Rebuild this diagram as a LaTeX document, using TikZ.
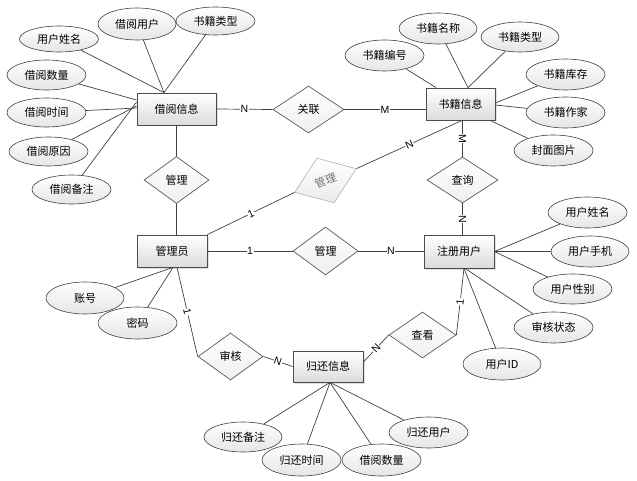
\documentclass[tikz,border=0pt]{standalone}
\usepackage{fontspec}
\setmainfont{Noto Sans CJK SC}
\newfontfamily\labfont{Liberation Sans}
\usetikzlibrary{shapes.geometric,shadows}
\begin{document}
\begin{tikzpicture}[x=1pt,y=-1pt,
  font=\fontsize{11}{13}\selectfont,
  ent/.style={rectangle, draw=black!70, line width=0.8pt, minimum width=70pt, minimum height=32pt,
    inner sep=0pt, top color=white, bottom color=black!14,
    drop shadow={shadow xshift=1.5pt, shadow yshift=-1.5pt, opacity=0.25}},
  attr/.style={ellipse, draw=black!75, line width=0.6pt, minimum width=79pt, minimum height=31pt,
    inner sep=0pt, top color=white, bottom color=black!10},
  rel/.style={diamond, draw=black!65, line width=0.7pt, minimum width=65pt, minimum height=47pt,
    inner sep=0pt, top color=white, bottom color=black!6},
  ghost/.style={draw=black!28, text=black!55, top color=white, bottom color=black!8},
  ln/.style={draw=black!75, line width=0.7pt},
  card/.style={font=\labfont\fontsize{10.5}{11}\selectfont, fill=white, inner sep=0.6pt, midway, sloped}
]
\useasboundingbox (0,0) rectangle (637,481);

% entities
\node[ent, minimum width=79pt] (jy) at (176.5,109) {借阅信息};
\node[ent, minimum width=69pt] (sj) at (460.5,104) {书籍信息};
\node[ent] (gly) at (172,251) {管理员};
\node[ent, minimum height=33pt] (zc) at (459,251.5) {注册用户};
\node[ent, minimum height=31pt] (gh) at (328,366.5) {归还信息};

% relations
\node[rel, minimum width=71pt] (gl) at (308.5,109.5) {关联};
\node[rel] (m1) at (176.5,180) {管理};
\node[rel, ghost, rotate=21, minimum width=66pt, minimum height=48pt] (m2) at (325.5,180.5) {管理};
\node[rel, minimum width=71pt, minimum height=46pt] (cx) at (462.5,180) {查询};
\node[rel, minimum height=48pt] (m3) at (325.5,251) {管理};
\node[rel] (sh) at (230.5,356.5) {审核};
\node[rel, minimum width=67pt, minimum height=46pt] (ck) at (422.5,335) {查看};

% attributes of 借阅信息
\node[attr, minimum height=26pt] (a1) at (59,39) {用户姓名};
\node[attr, minimum width=78pt, minimum height=32pt] (a2) at (137,24) {借阅用户};
\node[attr, minimum height=28pt] (a3) at (215.5,21) {书籍类型};
\node[attr, minimum height=30pt] (a4) at (46.5,75) {借阅数量};
\node[attr, minimum height=29pt] (a5) at (46.5,112.5) {借阅时间};
\node[attr, minimum height=29pt] (a6) at (48.5,151.5) {借阅原因};
\node[attr, minimum height=29pt] (a7) at (71.5,189.5) {借阅备注};

% attributes of 书籍信息
\node[attr] (b1) at (384.5,55.5) {书籍编号};
\node[attr, minimum width=78pt] (b2) at (438,28.5) {书籍名称};
\node[attr, minimum width=78pt, minimum height=30pt] (b3) at (520,37) {书籍类型};
\node[attr] (b4) at (565.5,74.5) {书籍库存};
\node[attr] (b5) at (565.5,112.5) {书籍作家};
\node[attr] (b6) at (553.5,150.5) {封面图片};

% attributes of 管理员
\node[attr, minimum width=78pt, minimum height=32pt] (c1) at (85,298) {账号};
\node[attr, minimum height=32pt] (c2) at (137.5,323) {密码};

% attributes of 注册用户
\node[attr] (d1) at (587.5,212.5) {用户姓名};
\node[attr, minimum width=78pt] (d2) at (590,251.5) {用户手机};
\node[attr, minimum height=30pt] (d3) at (572.5,289) {用户性别};
\node[attr] (d4) at (553.5,327.5) {审核状态};
\node[attr, minimum width=78pt, minimum height=32pt] (d5) at (502,364) {用户ID};

% attributes of 归还信息
\node[attr, minimum width=78pt, minimum height=30pt] (e1) at (243,437) {归还备注};
\node[attr, minimum height=32pt] (e2) at (301.5,460) {归还时间};
\node[attr, minimum height=32pt] (e3) at (381.5,460) {借阅数量};
\node[attr] (e4) at (428.5,432.5) {归还用户};

% attribute connectors
\draw[ln] (a1) -- ([xshift=-12.5pt]jy.north);
\draw[ln] (a2) -- ([xshift=-12.5pt]jy.north);
\draw[ln] (a3) -- ([xshift=-12.5pt]jy.north);
\draw[ln] (a4) -- ([yshift=9pt]jy.west);
\draw[ln] (a5) -- ([yshift=1pt]jy.west);
\draw[ln] (a6) -- ([yshift=3pt]jy.west);
\draw[ln] (a7) -- ([yshift=7pt]jy.west);

\draw[ln] (b1) -- ([xshift=-24.5pt]sj.north);
\draw[ln] (b2) -- ([xshift=7.5pt]sj.north);
\draw[ln] (b3) -- ([xshift=7.5pt]sj.north);
\draw[ln] (b4) -- ([yshift=1pt]sj.east);
\draw[ln] (b5) -- ([yshift=-1pt]sj.east);
\draw[ln] (b6) -- ([xshift=29.5pt]sj.south);

\draw[ln] (c1) -- ([xshift=1pt]gly.south);
\draw[ln] (c2) -- ([xshift=1pt]gly.south);

\draw[ln] (d1) -- (zc.east);
\draw[ln] (d2) -- (zc.east);
\draw[ln] (d3) -- (zc.east);
\draw[ln] (d4) -- ([xshift=6pt]zc.south);
\draw[ln] (d5) -- ([xshift=5pt]zc.south);

\draw[ln] (e1) -- ([xshift=2pt]gh.south);
\draw[ln] (e2) -- ([xshift=2pt]gh.south);
\draw[ln] (e3) -- ([xshift=2pt]gh.south);
\draw[ln] (e4) -- ([xshift=2pt]gh.south);

% relationship connectors
\draw[ln] (jy.east) -- node[card]{N} (gl.west);
\draw[ln] (gl.east) -- node[card]{M} (gl.east -| sj.west);
\draw[ln] (jy.south) -- (m1.north);
\draw[ln] (m1.south) -- (m1.south |- gly.north);
\draw[ln] ([xshift=1.5pt]sj.south) -- node[card]{N} (m2.east);
\draw[ln] (m2.west) -- node[card]{1} (gly.north east);
\draw[ln] (cx.north |- sj.south) -- node[card]{M} (cx.north);
\draw[ln] (cx.south) -- node[card]{N} (cx.south |- zc.north);
\draw[ln] (gly.east) -- node[card]{1} (m3.west);
\draw[ln] (m3.east) -- node[card]{N} (m3.east -| zc.west);
\draw[ln] ([xshift=5pt]gly.south) -- node[card]{1} (sh.west);
\draw[ln] (sh.east) -- node[card]{N} (gh.west);
\draw[ln] ([yshift=4.5pt]gh.east) -- node[card]{N} (ck.west);
\draw[ln] (ck.east) -- node[card]{1} ([xshift=5pt]zc.south);
\end{tikzpicture}
\end{document}
